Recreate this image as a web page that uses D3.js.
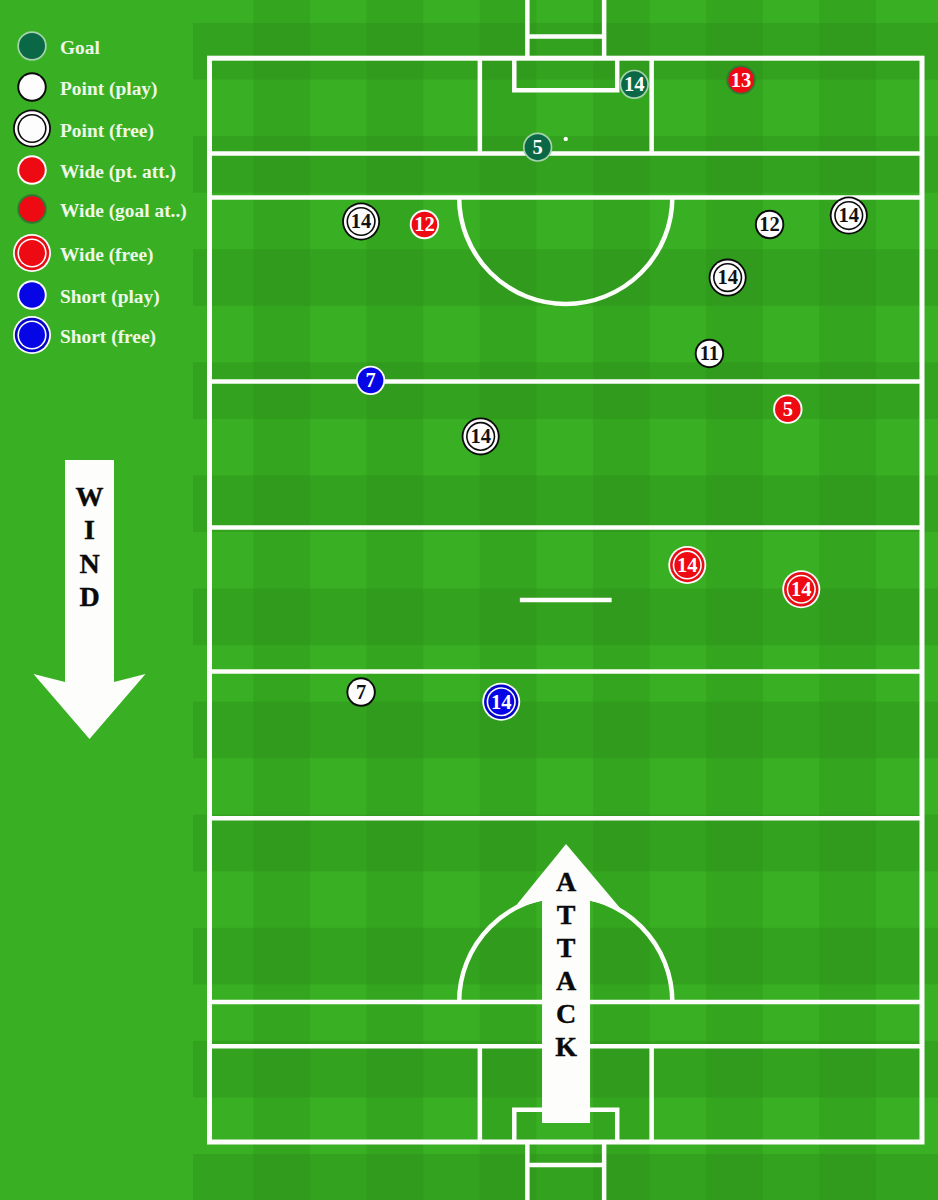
<!DOCTYPE html>
<html><head><meta charset="utf-8">
<script src="https://cdn.jsdelivr.net/npm/d3@7/dist/d3.min.js"></script>
<style>html,body{margin:0;padding:0;background:#38ae22}svg{display:block}text{font-family:"Liberation Serif",serif;font-weight:700}</style>
</head><body><div id="c"></div>
<script>
// Categories (legend order)
const shotTypes = ["Goal","Point (play)","Point (free)","Wide (pt. att.)","Wide (goal at..)","Wide (free)","Short (play)","Short (free)"];
// Shots: position on pitch in metres, shirt number, category
const shotX    = [53.65,41.45,67.15,19.15,27.15,70.75,80.75,65.45,63.15,20.35,73.05,34.25,60.35,74.75,19.15,36.85];
const shotY    = [3.5,11.9,2.9,21.85,22.25,22.25,21.05,29.35,39.5,43.1,46.95,50.6,67.8,71.05,84.8,86.1];
const shotNum  = [14,5,13,14,12,12,14,14,11,7,5,14,14,14,7,14];
const shotType = ["Goal","Goal","Wide (goal at..)","Point (free)","Wide (pt. att.)","Point (play)","Point (free)","Point (free)","Point (play)","Short (play)","Wide (pt. att.)","Point (free)","Wide (free)","Wide (free)","Point (play)","Short (free)"];
// Pitch markings in metres
const pitchLength = 145, pitchWidth = 90;
const crossLines = [12.75,18.63,43.25,62.78,82.05,101.7,126.26,132.2];
const windLabel = "WIND", attackLabel = "ATTACK";

const W=938,H=1200;
const svg=d3.select("#c").append("svg").attr("width",W).attr("height",H);
const x=d3.scaleLinear().domain([0,pitchWidth]).range([209.5,922]);
const y=d3.scaleLinear().domain([0,pitchLength]).range([58.2,1142]);
const white="#fdfefb";

// background mowing stripes
svg.append("rect").attr("width",W).attr("height",H).attr("fill","#39b023");
const bandW=56.6, vBands=d3.range(253.4,900,113.2), hBands=d3.range(23,1200,113.1);
svg.append("g").selectAll("rect").data(vBands).join("rect")
  .attr("x",d=>d).attr("y",0).attr("width",bandW).attr("height",H).attr("fill","#2a8a18").attr("opacity",.3);
svg.append("g").selectAll("rect").data(hBands).join("rect")
  .attr("x",193).attr("y",d=>d).attr("width",W-193).attr("height",bandW).attr("fill","#2a8a18").attr("opacity",.36);

// pitch lines
const g=svg.append("g").attr("fill","none").attr("stroke",white).attr("stroke-width",4.5);
g.append("rect").attr("x",x(0)).attr("y",y(0)).attr("width",x(90)-x(0)).attr("height",y(145)-y(0)).attr("stroke-width",5);
g.selectAll("line.c").data(crossLines).join("line").attr("class","c")
  .attr("x1",x(0)).attr("x2",x(90)).attr("y1",d=>y(d)).attr("y2",d=>y(d));
const mid=x(45);
const ln=(a,b,c,d)=>g.append("line").attr("x1",a).attr("y1",b).attr("x2",c).attr("y2",d);
// halfway mark
ln(x(39.2),y(72.5),x(50.8),y(72.5));
// ends: [end line, 13m line, direction, crossbar offset]
[[0,12.75,1,21.6],[145,132.2,-1,23]].forEach(([e,l13,s,bar])=>{
  const ye=y(e), yl=y(l13);
  // large rectangle
  [-10.85,10.85].forEach(o=>ln(x(45+o),ye,x(45+o),yl));
  // small rectangle
  g.append("path").attr("d",`M${x(45-6.5)},${ye}V${y(e+s*4.3)}H${x(45+6.5)}V${ye}`);
  // posts
  const yEdge=s>0?0:H;
  [-4.85,4.85].forEach(o=>ln(x(45+o),ye,x(45+o),yEdge));
  ln(x(45-4.85),ye-s*bar,x(45+4.85),ye-s*bar);
});
// 40m arcs
const R=106.6;
g.append("path").attr("d",`M${mid-R},${y(18.63)}A${R},${R} 0 0 0 ${mid+R},${y(18.63)}`);
g.append("path").attr("d",`M${mid-R},${y(126.26)}A${R},${R} 0 0 1 ${mid+R},${y(126.26)}`);
svg.append("circle").attr("cx",mid).attr("cy",y(10.8)).attr("r",2.2).attr("fill",white);

// attack arrow
const line=d3.line();
const ax=mid+0.3;
svg.append("path").attr("fill",white).attr("d",line([[ax,844],[ax+54,908],[ax+24,900.7],[ax+24,1123],[ax-24,1123],[ax-24,900.7],[ax-52,908]])+"Z");
// wind arrow
const wx=89.5;
svg.append("path").attr("fill",white).attr("d",line([[wx-24.5,460],[wx+24.5,460],[wx+24.5,682],[wx+56,674],[wx,739],[wx-56,674],[wx-24.5,682]])+"Z");
const letters=(s,cx,y0,dy)=>svg.append("g").selectAll("text").data(s.split("")).join("text")
  .attr("x",cx).attr("y",(d,i)=>y0+i*dy).attr("text-anchor","middle").attr("font-size",28).attr("fill","#0a0a0a").attr("stroke","#0a0a0a").attr("stroke-width",0.4).text(d=>d);
letters(attackLabel,ax,891,33);
letters(windLabel,wx,506,33.3);

// marker styles: concentric rings [radius, fill] from outer to inner
const styles={
 "Goal":[[14.7,"#a4d3ac"],[13,"#0b6846"]],
 "Point (play)":[[14.7,"#0a0a0a"],[12.8,"#fdfdfd"]],
 "Point (free)":[[19,"#0a0a0a"],[17.2,"#fdfdfd"],[14.6,"#0a0a0a"],[13,"#fdfdfd"]],
 "Wide (pt. att.)":[[14.7,"#fdfdfd"],[12.8,"#ee0a12"]],
 "Wide (goal at..)":[[14.7,"#2f7a33"],[12.8,"#ee0a12"]],
 "Wide (free)":[[19,"#fdfdfd"],[17.2,"#e40f17"],[14.6,"#fdfdfd"],[13,"#ee0a12"]],
 "Short (play)":[[14.7,"#fdfdfd"],[12.8,"#0505e6"]],
 "Short (free)":[[19,"#fdfdfd"],[17.2,"#0505c8"],[14.6,"#fdfdfd"],[13,"#0505e6"]]
};
const txtCol=t=>t.startsWith("Point")?"#111":"#fff";
const marker=(sel)=>sel.each(function(d){
  d3.select(this).selectAll("circle").data(styles[d.type]).join("circle").attr("r",r=>r[0]).attr("fill",r=>r[1]);
});

// legend
const legendY=d3.scaleOrdinal().domain(shotTypes).range([46,87,128.5,170,209,253,295,335]);
const leg=svg.append("g").selectAll("g").data(shotTypes.map(type=>({type}))).join("g")
  .attr("transform",d=>`translate(32,${legendY(d.type)})`).call(marker);
leg.append("text").attr("x",28).attr("y",8).attr("font-size",19.4).attr("fill","#eef7e8").text(d=>d.type);

// shots
const shots=shotX.map((v,i)=>({x:v,y:shotY[i],num:shotNum[i],type:shotType[i]}));
const sg=svg.append("g").selectAll("g").data(shots).join("g")
  .attr("transform",d=>`translate(${x(d.x)},${y(d.y)})`).call(marker);
sg.append("text").attr("text-anchor","middle").attr("y",6.8).attr("font-size",20.5)
  .attr("fill",d=>txtCol(d.type)).text(d=>d.num);
</script></body></html>
